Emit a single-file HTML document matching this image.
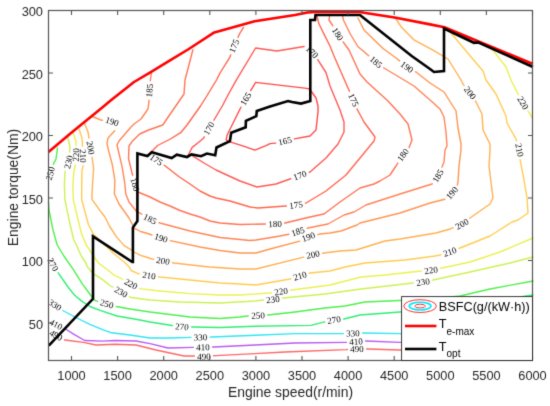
<!DOCTYPE html>
<html><head><meta charset="utf-8"><style>
html,body{margin:0;padding:0;background:#fff}
svg{display:block}
</style></head><body>
<svg width="550" height="406" viewBox="0 0 550 406">
<defs><filter id="bl" x="0" y="0" width="1" height="1" color-interpolation-filters="sRGB"><feConvolveMatrix order="3" kernelMatrix="0.0144 0.0912 0.0144 0.0912 0.5776 0.0912 0.0144 0.0912 0.0144" edgeMode="duplicate" preserveAlpha="true"/></filter></defs>
<rect width="550" height="406" fill="#fff"/>
<g filter="url(#bl)">
<rect width="550" height="406" fill="#fff"/>
<g fill="none" stroke-width="1.4" stroke-linejoin="round" stroke-linecap="round">
<polyline stroke="#ff4c4c" points="310.0,89.0 304.7,88.1 255.6,82.4 250.7,90.6 250.7,90.6"/>
<polyline stroke="#ff4c4c" points="240.9,107.2 240.9,107.2 234.6,120.0 231.1,127.0 227.2,135.0 226.1,139.8 229.9,141.8 243.5,146.2 254.9,150.1 266.0,145.6 270.0,143.6 275.6,143.1"/>
<polyline stroke="#ff4c4c" points="294.4,138.9 310.0,136.0 316.0,130.0 318.0,112.0 318.0,106.0 316.0,98.0 311.0,91.0 310.0,89.0"/>
<polyline stroke="#ff5a56" points="304.1,46.5 276.9,51.0 255.6,48.0 236.0,80.7 228.0,95.0 222.3,106.0 214.0,120.0 213.9,120.2"/>
<polyline stroke="#ff5a56" points="204.3,136.9 203.7,138.0 199.0,142.0 192.2,147.4 188.5,154.5 192.2,155.7 204.0,163.0 216.0,170.0 240.0,181.0 257.0,187.0 276.0,184.0 290.0,179.0 290.9,178.7"/>
<polyline stroke="#ff5a56" points="309.1,172.3 310.0,172.0 326.0,158.0 338.0,144.0 344.0,132.0 344.0,122.0 340.0,110.0 330.0,86.0 326.0,72.5 317.7,59.7"/>
<polyline stroke="#ff674f" points="243.5,27.4 240.0,33.0 238.0,37.3"/>
<polyline stroke="#ff674f" points="230.7,55.0 229.8,57.3 220.0,73.0 216.5,80.0 207.4,95.0 200.5,106.0 187.0,125.0 180.7,132.7 170.4,139.0 157.6,145.5 148.6,154.4"/>
<polyline stroke="#ff674f" points="164.2,165.2 165.3,166.0 179.4,177.0 190.0,184.0 200.0,191.0 210.0,196.0 216.0,198.0 230.0,201.0 240.0,204.0 250.0,207.0 258.0,208.0 286.0,206.0 286.4,206.0"/>
<polyline stroke="#ff674f" points="305.4,203.1 306.0,203.0 326.0,191.0 346.0,175.0 360.0,158.0 374.0,141.0 375.0,137.0 364.0,122.0 357.0,109.0 357.0,108.9"/>
<polyline stroke="#ff674f" points="349.5,91.3 348.0,88.0 341.0,72.0 334.0,56.0 330.2,46.5 323.9,33.9 318.9,23.8 317.0,16.3"/>
<polyline stroke="#ff7456" points="192.9,49.8 185.0,80.0 184.0,94.0 162.7,125.0 148.6,130.0 139.7,134.0 132.0,141.6 129.0,146.0 128.5,158.7 132.3,174.0 132.6,175.2"/>
<polyline stroke="#ff7456" points="138.0,192.0 150.0,197.0 160.0,202.0 170.0,206.0 180.0,210.5 190.0,214.0 200.0,217.0 210.0,221.0 220.0,223.0 240.0,224.5 265.0,224.0 265.4,224.0"/>
<polyline stroke="#ff7456" points="284.6,223.0 285.0,223.0 310.0,217.0 324.0,214.0 340.0,202.0 360.0,188.0 374.0,184.0 380.0,181.0 390.0,175.0 396.0,166.0 397.8,163.1"/>
<polyline stroke="#ff7456" points="409.1,147.6 412.0,140.0 408.0,124.0 400.0,114.0 388.0,101.0 367.0,82.0 360.0,74.0 349.0,50.0 343.1,41.9"/>
<polyline stroke="#ff7456" points="332.8,25.8 332.0,24.5 329.0,20.0 329.5,16.3"/>
<polyline stroke="#ff8458" points="151.5,73.0 150.5,79.0 150.3,80.9"/>
<polyline stroke="#ff8458" points="149.0,100.1 149.0,101.0 148.0,109.0 141.0,119.0 134.0,124.0 131.0,127.0 119.0,141.0 117.0,145.0 118.2,150.0 122.0,166.4 124.7,182.7 125.8,194.0 129.0,202.0 137.4,212.5"/>
<polyline stroke="#ff8458" points="138.0,212.0 141.7,214.2"/>
<polyline stroke="#ff8458" points="158.9,222.6 160.0,223.0 190.0,231.0 220.0,237.5 250.0,240.5 256.0,240.0 280.0,236.0 288.8,234.2"/>
<polyline stroke="#ff8458" points="307.1,228.3 308.0,228.0 328.0,224.0 344.0,215.0 354.0,212.0 366.0,205.0 400.0,194.0 432.0,184.0 432.2,183.7"/>
<polyline stroke="#ff8458" points="441.9,167.2 442.0,167.0 444.0,162.0 445.0,150.0 447.0,146.0 446.0,132.0 444.0,117.0 440.0,109.0 430.0,100.0 414.0,86.0 384.0,68.0 383.7,67.8"/>
<polyline stroke="#ff8458" points="368.7,55.8 362.0,50.0 357.8,46.5 350.3,34.0 343.4,20.0 342.7,16.3"/>
<polyline stroke="#ff9653" points="92.0,116.5 101.0,120.0 102.5,120.2"/>
<polyline stroke="#ff9653" points="114.7,130.7 108.0,138.0 107.0,143.0 108.4,150.0 112.2,164.2 114.9,180.5 114.4,194.0 119.0,204.0 129.0,218.0 133.5,226.5"/>
<polyline stroke="#ff9653" points="134.0,228.2 140.5,231.5 146.0,233.0 151.9,235.0"/>
<polyline stroke="#ff9653" points="170.3,240.6 200.0,247.0 220.0,250.5 240.0,253.0 256.0,253.0 270.0,249.0 299.8,241.1"/>
<polyline stroke="#ff9653" points="317.8,234.6 320.0,234.0 330.0,233.0 341.0,231.0 357.0,225.0 360.0,223.0 400.0,213.0 430.0,203.0 444.8,199.3"/>
<polyline stroke="#ff9653" points="457.3,185.0 458.0,182.0 459.0,166.0 461.0,150.0 461.0,144.0 458.0,128.0 456.0,111.0 444.0,92.0 430.0,83.0 416.0,72.0 415.4,71.7"/>
<polyline stroke="#ff9653" points="399.6,60.9 396.0,58.0 383.0,48.5 364.0,30.0 358.0,18.0"/>
<polyline stroke="#ffb153" points="84.0,122.0 88.0,132.0 89.0,138.2"/>
<polyline stroke="#ffb153" points="92.1,157.2 93.6,168.5 93.0,177.0 92.0,194.0 92.0,199.3 100.0,210.6 105.0,217.0 109.4,226.0 116.5,236.9 124.2,245.6 132.9,251.0"/>
<polyline stroke="#ffb153" points="133.0,251.5 140.5,255.4 146.0,257.0 152.0,259.0 153.6,259.3"/>
<polyline stroke="#ffb153" points="172.4,262.7 174.0,263.0 200.0,266.0 210.0,267.0 240.0,269.0 256.0,269.0 303.7,257.1"/>
<polyline stroke="#ffb153" points="322.5,253.2 324.0,253.0 340.0,251.0 356.0,250.0 385.0,241.0 400.0,239.0 436.0,233.0 450.0,229.0 453.1,227.7"/>
<polyline stroke="#ffb153" points="469.7,218.2 470.0,218.0 490.0,204.0 493.0,198.0 490.0,174.0 489.0,166.0 490.0,150.0 490.0,144.0 483.0,130.0 482.0,114.0 476.0,102.0 475.3,101.0"/>
<polyline stroke="#ffb153" points="464.1,85.4 463.0,84.0 461.0,80.0 448.0,59.0 433.0,50.2 414.3,40.2 401.7,27.6 396.0,19.0"/>
<polyline stroke="#ffcc53" points="79.0,129.0 82.0,138.0 82.5,146.2"/>
<polyline stroke="#ffcc53" points="83.0,165.4 83.0,167.0 82.0,170.0 81.7,185.0 81.7,199.8 88.6,225.0 93.7,234.6 102.4,242.4 113.3,253.3 124.2,262.0 129.6,267.4 131.0,270.5 138.8,273.8 139.5,273.9"/>
<polyline stroke="#ffcc53" points="158.5,276.8 160.0,277.0 190.0,280.0 220.0,283.0 240.0,284.0 256.0,285.0 290.0,279.0 290.8,278.8"/>
<polyline stroke="#ffcc53" points="309.2,273.2 310.0,273.0 330.0,271.0 345.0,267.0 365.0,263.0 405.0,260.0 435.0,256.0 440.0,255.0 440.8,254.8"/>
<polyline stroke="#ffcc53" points="458.9,248.4 460.0,248.0 490.0,236.0 498.0,231.0 512.0,222.0 518.0,220.0 528.0,213.0 527.0,198.0 524.0,180.0 520.1,159.6"/>
<polyline stroke="#ffcc53" points="516.6,140.9 516.0,139.0 507.0,123.0 506.0,116.0 496.0,94.0 486.0,80.0 483.0,71.0 466.0,51.0 451.0,33.0"/>
<polyline stroke="#eaf151" points="72.5,131.5 76.0,141.0 76.0,145.4"/>
<polyline stroke="#eaf151" points="75.2,164.6 75.0,167.0 74.0,170.0 72.8,185.0 73.3,199.8 79.4,225.0 81.8,234.6 86.3,245.0 91.5,253.1 92.7,254.6 96.9,261.0 100.0,264.2 107.8,270.0 115.0,275.7 117.0,276.4 122.0,279.0 122.6,279.3"/>
<polyline stroke="#eaf151" points="139.5,288.4 140.0,288.6 155.0,290.5 160.0,291.0 190.0,293.6 220.0,295.0 240.0,295.0 270.0,293.0 271.5,292.8"/>
<polyline stroke="#eaf151" points="290.5,290.2 292.0,290.0 330.0,285.0 361.0,277.0 385.0,275.0 421.0,271.0 421.4,271.0"/>
<polyline stroke="#eaf151" points="440.4,268.3 442.0,268.0 470.0,262.0 500.0,252.0 533.0,238.0"/>
<polyline stroke="#eaf151" points="492.0,49.0 506.0,67.0 511.0,80.0 518.0,94.0 518.3,94.6"/>
<polyline stroke="#eaf151" points="528.1,111.1 532.5,118.0"/>
<polyline stroke="#cdf154" points="67.5,136.5 70.0,147.0 69.5,152.4"/>
<polyline stroke="#cdf154" points="65.3,171.1 65.0,172.0 64.4,185.0 64.9,199.8 70.2,225.0 73.7,239.8 76.4,245.0 81.5,256.5 86.0,263.0 87.3,266.8 91.7,272.0 93.6,273.8 102.6,279.6 110.6,286.0 112.7,287.1"/>
<polyline stroke="#cdf154" points="129.4,296.6 131.0,297.5 150.0,300.0 180.0,302.0 220.0,303.0 255.0,301.0 263.0,300.0 263.4,300.0"/>
<polyline stroke="#cdf154" points="282.5,298.1 283.0,298.0 325.0,294.0 361.0,289.0 413.0,283.0 413.4,283.0"/>
<polyline stroke="#cdf154" points="432.4,280.1 433.0,280.0 470.0,272.0 510.0,263.0 533.0,257.0"/>
<polyline stroke="#4ef04e" points="57.5,148.0 56.0,159.0 53.3,164.4"/>
<polyline stroke="#4ef04e" points="48.5,202.0 49.0,210.0 53.0,230.0 57.2,245.0 64.2,256.5 73.2,269.3 82.0,283.4 90.5,295.0 94.0,300.0 97.6,301.3"/>
<polyline stroke="#4ef04e" points="116.1,306.4 116.4,306.5 130.0,309.0 150.0,312.0 190.0,317.0 220.0,318.5 240.0,317.0 247.0,316.0 248.4,315.9"/>
<polyline stroke="#4ef04e" points="267.6,315.0 268.0,315.0 295.0,312.0 325.0,308.0 345.0,306.0 365.0,302.0 399.0,300.5 430.0,299.0 460.0,296.0 490.0,289.0 533.0,281.0"/>
<polyline stroke="#31ee74" points="58.0,272.7 68.0,287.0 74.4,295.0 82.0,301.4 90.0,306.5 100.0,310.4 117.0,316.0 136.0,319.3 150.0,322.0 172.0,325.5 172.5,325.6"/>
<polyline stroke="#31ee74" points="191.6,327.0 192.0,327.0 220.0,327.5 255.0,326.2 311.0,325.4 322.7,322.4 324.6,322.0"/>
<polyline stroke="#31ee74" points="343.6,319.0 344.0,319.0 360.0,315.0 400.0,312.0 480.0,305.0 526.0,296.0 533.0,295.0"/>
<polyline stroke="#31e5f2" points="62.9,310.5 63.6,311.0 77.0,318.0 89.8,324.4 102.6,329.6 111.6,332.8 130.0,335.0 150.0,338.0 170.0,338.0 190.9,337.4"/>
<polyline stroke="#31e5f2" points="210.1,337.1 212.0,337.0 255.0,335.2 295.0,333.6 343.4,333.6"/>
<polyline stroke="#31e5f2" points="362.6,333.0 363.0,333.0 400.0,333.6 430.0,334.0"/>
<polyline stroke="#b95bf2" points="64.7,328.6 65.5,329.0 74.4,334.7 84.7,340.5 102.6,341.1 115.0,340.5 136.0,341.0 150.0,343.6 168.0,348.0 193.4,347.4"/>
<polyline stroke="#b95bf2" points="212.6,347.0 214.0,347.0 255.0,345.0 295.0,343.0 346.0,342.4 346.4,342.4"/>
<polyline stroke="#b95bf2" points="365.6,341.0 366.0,341.0 400.0,342.4 430.0,343.0"/>
<polyline stroke="#ff6767" points="64.5,339.8 64.8,340.0 83.4,342.4 96.2,345.0 115.0,344.3 136.0,345.0 156.0,350.0 184.0,356.0 194.0,356.0 194.4,356.0"/>
<polyline stroke="#ff6767" points="213.6,355.8 216.0,355.6 255.0,353.6 285.0,352.0 346.0,349.6 347.4,349.5"/>
<polyline stroke="#ff6767" points="366.6,349.0 368.0,349.0 400.0,350.0 430.0,350.0"/>
</g>
<g font-family="'Liberation Serif', serif" font-size="9.0" fill="#000" text-anchor="middle" dominant-baseline="central">
<text transform="translate(245.8 98.9) rotate(-59.4)">165</text>
<text transform="translate(285.0 141.0) rotate(-13.2)">165</text>
<text transform="translate(209.0 128.5) rotate(-60.2)">170</text>
<text transform="translate(300.0 175.5) rotate(-19.3)">170</text>
<text transform="translate(312.0 52.0) rotate(44.8)">170</text>
<text transform="translate(234.0 46.0) rotate(-67.2)">175</text>
<text transform="translate(156.3 159.8) rotate(34.5)">175</text>
<text transform="translate(296.0 205.0) rotate(-8.5)">175</text>
<text transform="translate(353.5 100.0) rotate(66.8)">175</text>
<text transform="translate(135.0 184.5) rotate(72.8)">180</text>
<text transform="translate(275.0 224.0) rotate(-2.9)">180</text>
<text transform="translate(403.0 155.0) rotate(-54.2)">180</text>
<text transform="translate(337.7 34.0) rotate(57.7)">180</text>
<text transform="translate(149.5 90.5) rotate(-86.1)">185</text>
<text transform="translate(150.0 219.0) rotate(26.6)">185</text>
<text transform="translate(298.0 231.5) rotate(-18.4)">185</text>
<text transform="translate(438.0 176.0) rotate(-59.5)">185</text>
<text transform="translate(376.0 62.0) rotate(39.3)">185</text>
<text transform="translate(112.0 121.5) rotate(18.4)">190</text>
<text transform="translate(161.0 238.0) rotate(17.4)">190</text>
<text transform="translate(308.5 237.0) rotate(-19.3)">190</text>
<text transform="translate(452.0 193.0) rotate(-49.8)">190</text>
<text transform="translate(407.0 67.0) rotate(35.0)">190</text>
<text transform="translate(90.5 147.7) rotate(80.7)">200</text>
<text transform="translate(163.0 261.0) rotate(10.3)">200</text>
<text transform="translate(313.0 254.6) rotate(-11.3)">200</text>
<text transform="translate(462.0 224.0) rotate(-28.8)">200</text>
<text transform="translate(470.0 93.0) rotate(54.2)">200</text>
<text transform="translate(83.0 155.8) rotate(88.0)">210</text>
<text transform="translate(149.0 275.5) rotate(8.6)">210</text>
<text transform="translate(300.0 276.0) rotate(-16.7)">210</text>
<text transform="translate(450.0 252.0) rotate(-19.3)">210</text>
<text transform="translate(519.5 150.0) rotate(78.7)">210</text>
<text transform="translate(76.0 155.0) rotate(-87.8)">220</text>
<text transform="translate(131.0 284.0) rotate(28.1)">220</text>
<text transform="translate(281.0 291.5) rotate(-7.8)">220</text>
<text transform="translate(431.0 270.3) rotate(-8.1)">220</text>
<text transform="translate(523.0 103.0) rotate(58.9)">220</text>
<text transform="translate(68.5 162.0) rotate(-78.7)">230</text>
<text transform="translate(121.0 292.0) rotate(29.8)">230</text>
<text transform="translate(273.0 299.5) rotate(-5.7)">230</text>
<text transform="translate(423.0 282.0) rotate(-8.5)">230</text>
<text transform="translate(50.3 173.5) rotate(-75.2)">250</text>
<text transform="translate(106.8 304.0) rotate(15.3)">250</text>
<text transform="translate(258.0 315.5) rotate(-2.7)">250</text>
<text transform="translate(53.0 264.5) rotate(61.8)">270</text>
<text transform="translate(182.0 326.8) rotate(4.3)">270</text>
<text transform="translate(334.0 320.0) rotate(-9.1)">270</text>
<text transform="translate(55.0 305.0) rotate(33.5)">330</text>
<text transform="translate(200.5 337.4) rotate(-1.1)">330</text>
<text transform="translate(353.0 333.4) rotate(-1.8)">330</text>
<text transform="translate(56.0 324.5) rotate(27.9)">410</text>
<text transform="translate(203.0 347.3) rotate(-1.1)">410</text>
<text transform="translate(356.0 341.6) rotate(-4.0)">410</text>
<text transform="translate(56.0 335.3) rotate(28.9)">490</text>
<text transform="translate(204.0 356.6) rotate(-1.0)">490</text>
<text transform="translate(357.0 349.0) rotate(-1.6)">490</text>
</g>
<polyline points="48.5,152.0 71.0,133.0 103.5,106.5 110.0,101.0 134.0,82.0 152.0,71.4 170.0,60.3 188.0,49.5 214.3,32.4 254.7,21.2 295.0,15.0 307.6,12.5 315.0,12.0 360.0,12.0 364.0,12.8 394.6,17.5 430.0,24.4 444.4,27.3 533.0,64.0" fill="none" stroke="#ff0000" stroke-width="2.6" stroke-linejoin="round"/>
<polyline points="48.8,345.6 93.0,298.8 93.0,236.4 132.3,262.0 132.9,262.0 132.9,227.6 137.4,221.0 137.4,153.4 147.4,156.1 151.8,152.3 171.7,158.0 176.8,154.7 187.0,157.0 191.5,154.4 201.1,156.2 206.9,153.5 215.2,155.2 216.5,147.5 229.9,141.1 231.2,132.8 245.7,127.3 245.9,120.8 256.3,116.1 256.8,111.0 270.0,106.5 288.0,101.0 292.0,102.0 301.0,103.6 310.3,101.0 310.3,20.0 315.0,20.0 315.5,15.0 360.0,15.0 364.0,18.2 411.7,56.0 430.0,69.0 434.0,72.0 444.0,71.0 444.0,28.6 474.0,42.8 478.0,42.4 533.0,67.0" fill="none" stroke="#000" stroke-width="2.6" stroke-linejoin="miter" stroke-miterlimit="3"/>
<path d="M71.5 360.5v-4.5M71.5 10.5v4.5M117.6 360.5v-4.5M117.6 10.5v4.5M163.7 360.5v-4.5M163.7 10.5v4.5M209.8 360.5v-4.5M209.8 10.5v4.5M255.9 360.5v-4.5M255.9 10.5v4.5M302.0 360.5v-4.5M302.0 10.5v4.5M348.1 360.5v-4.5M348.1 10.5v4.5M394.2 360.5v-4.5M394.2 10.5v4.5M440.3 360.5v-4.5M440.3 10.5v4.5M486.4 360.5v-4.5M486.4 10.5v4.5M532.5 360.5v-4.5M532.5 10.5v4.5M48.5 323.0h4.5M532.5 323.0h-4.5M48.5 260.5h4.5M532.5 260.5h-4.5M48.5 198.0h4.5M532.5 198.0h-4.5M48.5 135.5h4.5M532.5 135.5h-4.5M48.5 73.0h4.5M532.5 73.0h-4.5M48.5 10.5h4.5M532.5 10.5h-4.5" stroke="#555" stroke-width="1.1" fill="none"/>
<rect x="48.5" y="10.5" width="484.0" height="350.0" fill="none" stroke="#555" stroke-width="1.2"/>
<g font-family="'Liberation Sans', Arial, sans-serif" font-size="12.8" fill="#262626">
<text x="71.5" y="379.6" text-anchor="middle">1000</text>
<text x="117.6" y="379.6" text-anchor="middle">1500</text>
<text x="163.7" y="379.6" text-anchor="middle">2000</text>
<text x="209.8" y="379.6" text-anchor="middle">2500</text>
<text x="255.9" y="379.6" text-anchor="middle">3000</text>
<text x="302.0" y="379.6" text-anchor="middle">3500</text>
<text x="348.1" y="379.6" text-anchor="middle">4000</text>
<text x="394.2" y="379.6" text-anchor="middle">4500</text>
<text x="440.3" y="379.6" text-anchor="middle">5000</text>
<text x="486.4" y="379.6" text-anchor="middle">5500</text>
<text x="532.5" y="379.6" text-anchor="middle">6000</text>
<text x="43" y="328.6" text-anchor="end">50</text>
<text x="43" y="266.1" text-anchor="end">100</text>
<text x="43" y="203.6" text-anchor="end">150</text>
<text x="43" y="141.1" text-anchor="end">200</text>
<text x="43" y="78.6" text-anchor="end">250</text>
<text x="43" y="16.1" text-anchor="end">300</text>
</g>
<text x="290.5" y="397" text-anchor="middle" font-family="'Liberation Sans', Arial, sans-serif" font-size="13.9" fill="#262626">Engine speed(r/min)</text>
<text transform="translate(18.1 187.5) rotate(-90)" text-anchor="middle" font-family="'Liberation Sans', Arial, sans-serif" font-size="13.9" fill="#262626">Engine torque(Nm)</text>
<g>
<rect x="401.6" y="296.6" width="130.9" height="63.9" fill="#fff" stroke="#262626" stroke-width="0.9"/>
<ellipse cx="420.1" cy="306.1" rx="16.3" ry="6.4" fill="none" stroke="#ff3030" stroke-width="1"/>
<ellipse cx="420.1" cy="306.1" rx="10.9" ry="3.85" fill="none" stroke="#00eaff" stroke-width="1.6"/>
<ellipse cx="420.1" cy="306.1" rx="5.4" ry="1.9" fill="none" stroke="#ff3030" stroke-width="1"/>
<line x1="405" y1="326" x2="436.4" y2="326" stroke="#ff0000" stroke-width="2.6"/>
<line x1="405" y1="349" x2="436.4" y2="349" stroke="#000" stroke-width="2.6"/>
<g font-family="'Liberation Sans', Arial, sans-serif" font-size="12.7" fill="#000">
<text x="438.8" y="310.8">BSFC(g/(kW·h))</text>
<text x="438.8" y="328.3">T<tspan font-size="10" dy="6.6">e-max</tspan></text>
<text x="438.8" y="350.5">T<tspan font-size="10" dy="6.3">opt</tspan></text>
</g>
</g>
</g>
</svg>
</body></html>
